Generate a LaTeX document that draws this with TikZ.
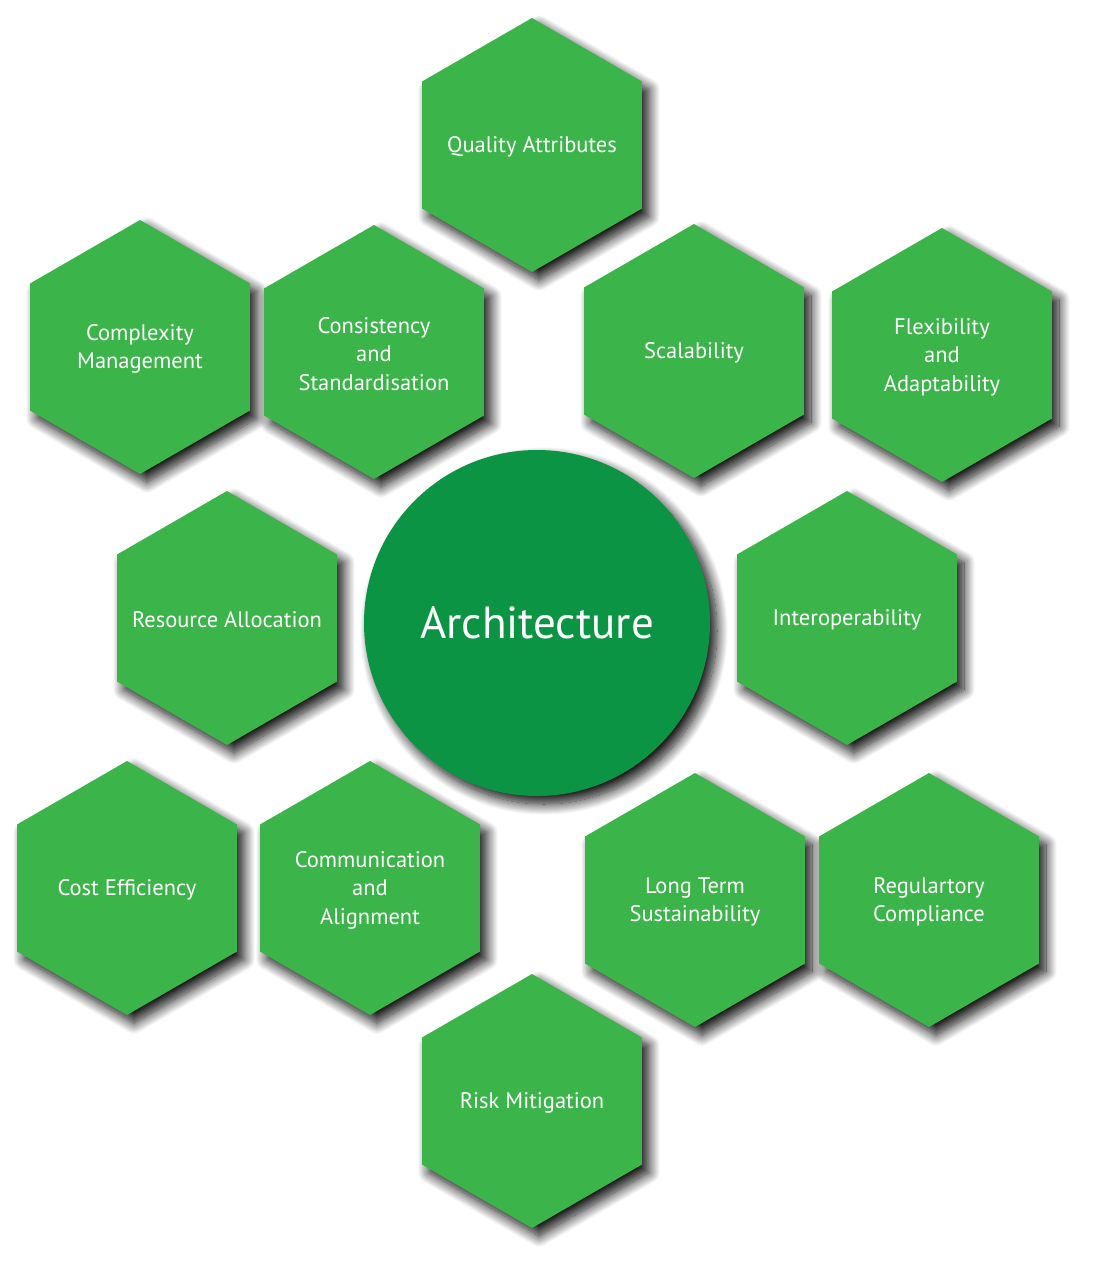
\documentclass[tikz,border=0pt]{standalone}
\usepackage{fontspec}
\setmainfont{PT Sans}
\usetikzlibrary{shapes.geometric,shadows.blur}
\definecolor{hexgreen}{HTML}{3BB54A}
\definecolor{circgreen}{HTML}{0B9444}
\tikzset{
  softshadow/.style={blur shadow={shadow xshift=7pt, shadow yshift=-8pt, shadow blur radius=11pt, shadow blur steps=16, shadow opacity=95}},
  hextext/.style={text=white, align=center, inner sep=0pt, yshift=-2pt, font=\fontsize{22.5}{28.5}\selectfont},
  hexbox/.style={regular polygon, regular polygon sides=6, shape border rotate=30,
    minimum size=254pt, inner sep=0pt, fill=hexgreen, draw=none, softshadow,
    label={[hextext]center:#1}},
  centerbox/.style={circle, minimum size=346pt, inner sep=0pt, fill=circgreen, text=white,
    font=\fontsize{45}{50}\selectfont, softshadow}
}
\begin{document}
\begin{tikzpicture}[x=1pt,y=-1pt]
\useasboundingbox (0,0) rectangle (1097,1275);
\node[hexbox={Quality Attributes}] (qa) at (532,145) {};
\node[hexbox={Complexity\\Management}] (cm) at (140,347) {};
\node[hexbox={Consistency\\and\\Standardisation}] (cs) at (374,352) {};
\node[hexbox={Scalability}] (sc) at (694,351) {};
\node[hexbox={Flexibility\\and\\Adaptability}] (fa) at (942,355) {};
\node[hexbox={Resource Allocation}] (ra) at (227,618) {};
\node[hexbox={Interoperability}] (io) at (847,618) {};
\node[hexbox={Cost Efficiency}] (ce) at (127,888) {};
\node[hexbox={Communication\\and\\Alignment}] (ca) at (370,888) {};
\node[hexbox={Long Term\\Sustainability}] (lt) at (695,900) {};
\node[hexbox={Regulartory\\Compliance}] (rc) at (929,900) {};
\node[hexbox={Risk Mitigation}] (rm) at (532,1101) {};
\node[centerbox] (arch) at (537,623) {Architecture};
\end{tikzpicture}
\end{document}
